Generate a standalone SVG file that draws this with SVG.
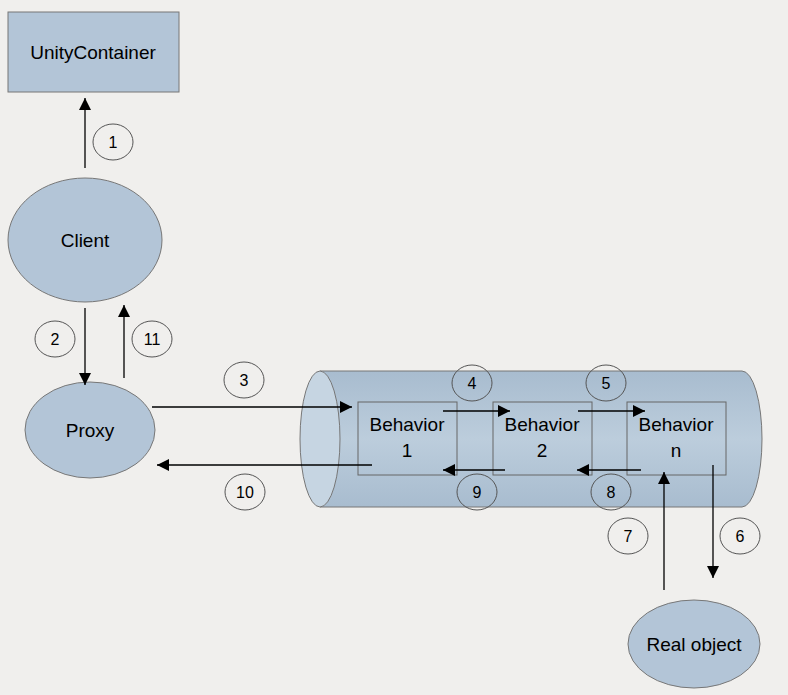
<svg xmlns="http://www.w3.org/2000/svg" width="788" height="695" viewBox="0 0 788 695">
<defs>
<marker id="ah" viewBox="0 0 10 10" refX="10" refY="5" markerWidth="14" markerHeight="12" markerUnits="userSpaceOnUse" orient="auto"><path d="M0,0L10,5L0,10z" fill="#000"/></marker>
<linearGradient id="cyl" x1="0" y1="0" x2="0" y2="1"><stop offset="0" stop-color="#a8bccf"/><stop offset="0.5" stop-color="#bccddc"/><stop offset="1" stop-color="#a8bccf"/></linearGradient>
</defs>
<style>
text{font-family:"Liberation Sans",Arial,sans-serif;font-size:19px;fill:#000;text-anchor:middle}
.n{font-size:16px}
.lbl{fill:none;stroke:#555;stroke-width:1}
.node{fill:#b3c5d7;stroke:#777;stroke-width:1}
.c{stroke:#000;stroke-width:1.3;fill:none;marker-end:url(#ah)}
.box{fill:none;stroke:#666;stroke-width:1}
</style>
<rect width="788" height="695" fill="#f0efed"/>
<g id="unity"><rect class="node" x="8" y="12" width="171" height="80"/><text x="93" y="59">UnityContainer</text></g>
<g id="client"><ellipse class="node" cx="85" cy="240" rx="77" ry="62"/><text x="85" y="247">Client</text></g>
<g id="proxy"><ellipse class="node" cx="90" cy="430" rx="65" ry="48"/><text x="90" y="437">Proxy</text></g>
<g id="pipeline">
<path d="M320,371H742A20,68 0 0 1 742,507H320Z" fill="url(#cyl)" stroke="#777"/>
<ellipse cx="320" cy="439" rx="20" ry="68" fill="#c6d5e2" stroke="#777"/>
</g>
<g id="b1"><rect class="box" x="358" y="402" width="99" height="73"/><text x="407" y="431">Behavior</text><text x="407" y="457">1</text></g>
<g id="b2"><rect class="box" x="493" y="402" width="99" height="73"/><text x="542" y="431">Behavior</text><text x="542" y="457">2</text></g>
<g id="bn"><rect class="box" x="627" y="402" width="99" height="73"/><text x="676" y="431">Behavior</text><text x="676" y="457">n</text></g>
<g id="real"><ellipse class="node" cx="694" cy="644" rx="66" ry="44"/><text x="694" y="651">Real object</text></g>
<g id="connectors">
<line class="c" x1="85" y1="168" x2="85" y2="98"/>
<line class="c" x1="85" y1="308" x2="85" y2="385"/>
<line class="c" x1="124" y1="378" x2="124" y2="305"/>
<line class="c" x1="152" y1="407" x2="352" y2="407"/>
<line class="c" x1="372" y1="465" x2="157" y2="465"/>
<line class="c" x1="443" y1="411" x2="510" y2="411"/>
<line class="c" x1="578" y1="411" x2="645" y2="411"/>
<line class="c" x1="505" y1="470" x2="443" y2="470"/>
<line class="c" x1="641" y1="470" x2="577" y2="470"/>
<line class="c" x1="664" y1="590" x2="664" y2="472"/>
<line class="c" x1="713" y1="465" x2="713" y2="578"/>
</g>
<g id="labels">
<ellipse class="lbl" cx="113" cy="142" rx="20" ry="18"/><text class="n" x="113" y="148">1</text>
<ellipse class="lbl" cx="55" cy="339" rx="20" ry="18"/><text class="n" x="55" y="345">2</text>
<ellipse class="lbl" cx="152" cy="339" rx="20" ry="18"/><text class="n" x="152" y="345">11</text>
<ellipse class="lbl" cx="244" cy="380" rx="20" ry="18"/><text class="n" x="244" y="386">3</text>
<ellipse class="lbl" cx="245" cy="492" rx="20" ry="18"/><text class="n" x="245" y="498">10</text>
<ellipse class="lbl" cx="472" cy="383" rx="20" ry="18"/><text class="n" x="472" y="389">4</text>
<ellipse class="lbl" cx="606" cy="383" rx="20" ry="18"/><text class="n" x="606" y="389">5</text>
<ellipse class="lbl" cx="477" cy="492" rx="20" ry="18"/><text class="n" x="477" y="498">9</text>
<ellipse class="lbl" cx="611" cy="492" rx="20" ry="18"/><text class="n" x="611" y="498">8</text>
<ellipse class="lbl" cx="628" cy="536" rx="20" ry="18"/><text class="n" x="628" y="542">7</text>
<ellipse class="lbl" cx="740" cy="536" rx="20" ry="18"/><text class="n" x="740" y="542">6</text>
</g>
</svg>
